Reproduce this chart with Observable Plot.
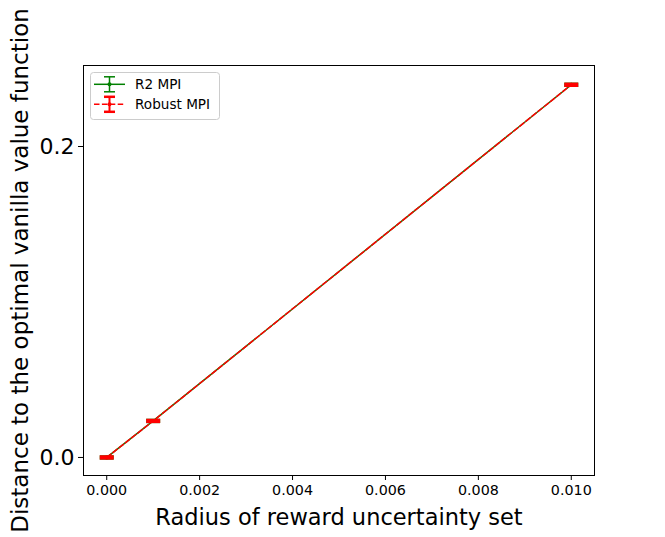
<!DOCTYPE html>
<html>
<head>
<meta charset="utf-8">
<script src="https://cdn.jsdelivr.net/npm/d3@7"></script>
<script src="https://cdn.jsdelivr.net/npm/@observablehq/plot@0.6"></script>
<style>
  body { margin: 0; background: #fff; font-family: "DejaVu Sans", sans-serif; }
  #wrap { position: relative; width: 665px; height: 537px; }
  #legend { position: absolute; left: 90px; top: 72px; }
</style>
</head>
<body>
<div id="wrap"><div id="chart"></div>
<svg id="legend" width="131" height="49"></svg>
</div>
<script>
const radius = [0, 0.001, 0.01];
const r2Values = [0, 0.0235, 0.2397];
const robustValues = [0, 0.0235, 0.2397];
const r2Err = [0.0003, 0.0003, 0.0003];
const robustErr = [0.0003, 0.0003, 0.0003];
const xTicks = [0, 0.002, 0.004, 0.006, 0.008, 0.010];
const yTicks = [0, 0.2];
const seriesNames = ["R2 MPI", "Robust MPI"];
const xLabel = "Radius of reward uncertainty set";
const yLabel = "Distance to the optimal vanilla value function";

const r2 = radius.map((x, i) => ({x, y: r2Values[i], e: r2Err[i]}));
const robust = radius.map((x, i) => ({x, y: robustValues[i], e: robustErr[i]}));

const capSymbol = {
  draw(ctx, size) {
    ctx.moveTo(-7, -2.2); ctx.lineTo(7, -2.2); ctx.lineTo(7, 2.2); ctx.lineTo(-7, 2.2); ctx.closePath();
  }
};

const chart = Plot.plot({
  width: 665,
  height: 537,
  marginLeft: 83,
  marginRight: 71,
  marginTop: 65,
  marginBottom: 62,
  style: {fontFamily: "DejaVu Sans, sans-serif", color: "#000", background: "#fff"},
  x: {domain: [-0.0005, 0.0105]},
  y: {domain: [-0.0116, 0.2521]},
  marks: [
    Plot.axisX({ticks: xTicks, tickFormat: d3.format(".3f"), fontSize: 14.3, tickSize: 5, tickPadding: 4, label: null, stroke: "#000"}),
    Plot.axisY({ticks: yTicks, tickFormat: d3.format(".1f"), fontSize: 22, tickSize: 5, tickPadding: 4, label: null, stroke: "#000"}),
    Plot.frame({stroke: "#000", strokeWidth: 1}),
    Plot.line(r2, {x: "x", y: "y", stroke: "green", strokeWidth: 1.5}),
    Plot.ruleX(r2, {x: "x", y1: d => d.y - d.e, y2: d => d.y + d.e, stroke: "green", strokeWidth: 1.5}),
    Plot.dot(r2, {x: "x", y: "y", symbol: capSymbol, fill: "green", stroke: "none"}),
    Plot.dot(r2, {x: "x", y: "y", r: 2, fill: "green"}),
    Plot.line(robust, {x: "x", y: "y", stroke: "red", strokeWidth: 1.5, strokeDasharray: "5.5,2.4"}),
    Plot.ruleX(robust, {x: "x", y1: d => d.y - d.e, y2: d => d.y + d.e, stroke: "red", strokeWidth: 2}),
    Plot.dot(robust, {x: "x", y: "y", symbol: capSymbol, fill: "red", stroke: "none"}),
    Plot.dot(robust, {x: "x", y: "y", r: 2, fill: "red"}),
    Plot.text([xLabel], {frameAnchor: "bottom", dy: 42, text: d => d, fontSize: 22.5, fill: "#000", textAnchor: "middle", lineAnchor: "middle"}),
    Plot.text([yLabel], {frameAnchor: "left", dx: -63, rotate: -90, text: d => d, fontSize: 23, fill: "#000", textAnchor: "middle", lineAnchor: "middle"})
  ]
});
document.getElementById("chart").appendChild(chart);

// Legend
const lg = d3.select("#legend");
lg.append("rect").attr("x", 0.5).attr("y", 0.5).attr("width", 129).attr("height", 47)
  .attr("rx", 3).attr("fill", "#fff").attr("fill-opacity", 0.8).attr("stroke", "#ccc");
const colors = ["green", "red"];
const dashes = [null, "5.5,2.4"];
seriesNames.forEach((name, i) => {
  const cy = 12.3 + i * 20;
  const g = lg.append("g");
  g.append("line").attr("x1", 4).attr("x2", 35).attr("y1", cy).attr("y2", cy)
    .attr("stroke", colors[i]).attr("stroke-width", 1.5).attr("stroke-dasharray", dashes[i]);
  g.append("line").attr("x1", 19.5).attr("x2", 19.5).attr("y1", cy - 7.5).attr("y2", cy + 7.5)
    .attr("stroke", colors[i]).attr("stroke-width", i ? 2 : 1.5);
  [-7.5, 7.5].forEach(o => g.append("line").attr("x1", 14).attr("x2", 25).attr("y1", cy + o).attr("y2", cy + o)
    .attr("stroke", colors[i]).attr("stroke-width", i ? 2.5 : 1.5));
  g.append("circle").attr("cx", 19.5).attr("cy", cy).attr("r", 2).attr("fill", colors[i]);
  g.append("text").attr("x", 45).attr("y", cy).attr("dy", "0.35em")
    .attr("font-size", 13.6).attr("font-family", "DejaVu Sans, sans-serif").attr("fill", "#000").text(name);
});
</script>
</body>
</html>
